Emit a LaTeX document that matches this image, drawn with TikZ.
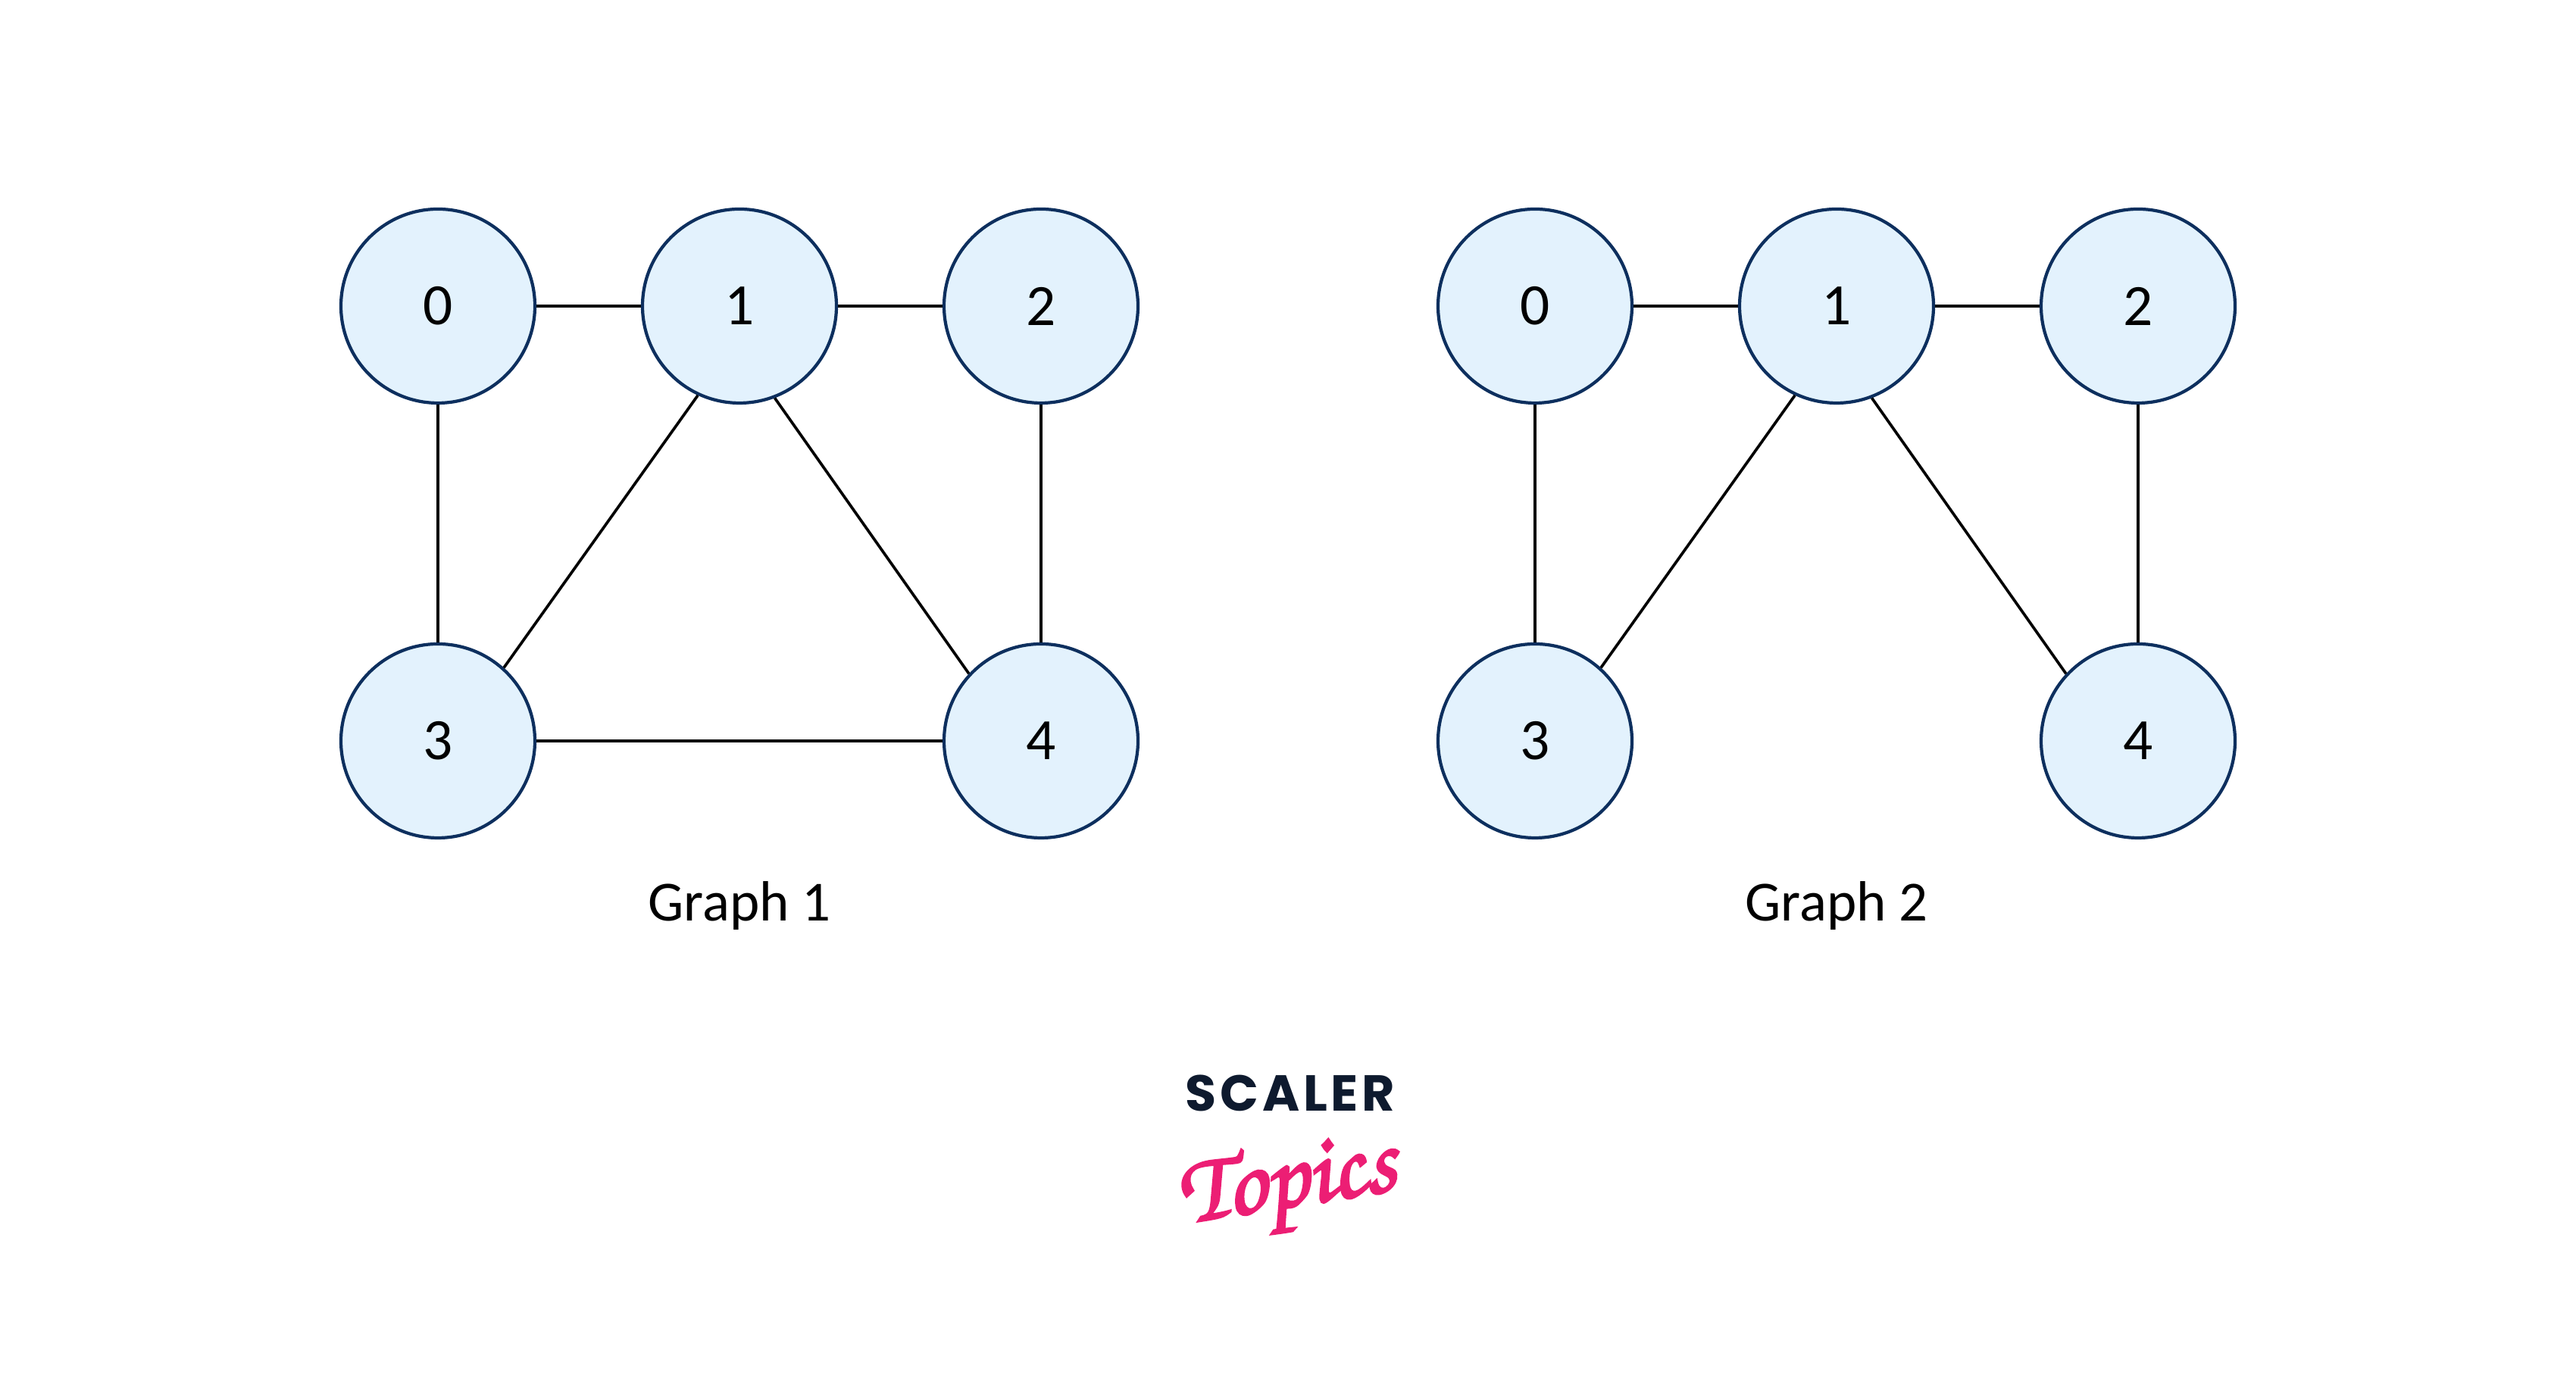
\documentclass[tikz,border=0pt]{standalone}
\usepackage{fontspec}
\setmainfont{Carlito}
\newfontfamily\logofont[LetterSpace=7]{Poppins}
\usetikzlibrary{positioning}
\definecolor{vertexfill}{HTML}{E3F2FD}
\definecolor{vertexline}{HTML}{0D2F5E}
\definecolor{logodark}{HTML}{0E1A2E}
\definecolor{logopink}{HTML}{EC1E74}
\newcommand{\heavytext}[1]{\special{pdf:code 2 Tr 0.9 w}#1\special{pdf:code 0 Tr}}
\tikzset{
 vertex/.style={circle, draw=vertexline, fill=vertexfill, line width=1.2pt, minimum size=2.56cm, inner sep=0pt, font=\fontsize{22}{26}\selectfont},
 edge/.style={draw=black, line width=1.05pt},
 caption/.style={font=\fontsize{21.3}{26}\selectfont}
}
\begin{document}
\begin{tikzpicture}
 \useasboundingbox (0,0) rectangle (34,18.4);
 % first graph
 \node [vertex] (a0) at (5.78,14.36) {0};
 \node [vertex] (a1) at (9.76,14.36) {1};
 \node [vertex] (a2) at (13.74,14.36) {2};
 \node [vertex] (a3) at (5.78,8.62) {3};
 \node [vertex] (a4) at (13.74,8.62) {4};
 \draw [edge] (a0) -- (a1);
 \draw [edge] (a1) -- (a2);
 \draw [edge] (a0) -- (a3);
 \draw [edge] (a2) -- (a4);
 \draw [edge] (a3) -- (a4);
 \draw [edge] (a1.245) -- (a3.48);
 \draw [edge] (a1.291) -- (a4.137);
 \node [caption] (cap1) at (9.76,6.44) {Graph 1};
 % second graph
 \node [vertex] (b0) at (20.26,14.36) {0};
 \node [vertex] (b1) at (24.24,14.36) {1};
 \node [vertex] (b2) at (28.22,14.36) {2};
 \node [vertex] (b3) at (20.26,8.62) {3};
 \node [vertex] (b4) at (28.22,8.62) {4};
 \draw [edge] (b0) -- (b1);
 \draw [edge] (b1) -- (b2);
 \draw [edge] (b0) -- (b3);
 \draw [edge] (b2) -- (b4);
 \draw [edge] (b1.245) -- (b3.48);
 \draw [edge] (b1.291) -- (b4.137);
 \node [caption] (cap2) at (24.24,6.44) {Graph 2};
 % logo
 \node [text=logodark, font=\logofont\bfseries\fontsize{19}{22}\selectfont] (scaler) at (17.03,3.97) {SCALER};
 \node [text=logopink, rotate=9, font=\fontencoding{T1}\fontfamily{pzc}\fontseries{m}\fontshape{it}\fontsize{37}{42}\selectfont] (topics) at (17.0,2.7) {\heavytext{Topics}};
\end{tikzpicture}
\end{document}
